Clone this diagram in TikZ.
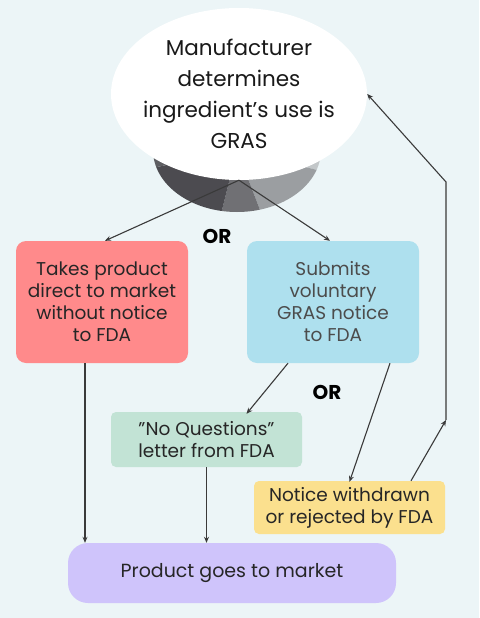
\documentclass[tikz,border=0pt]{standalone}
\usepackage{fontspec}
\setmainfont{Poppins}
\usetikzlibrary{arrows.meta,positioning,calc,shapes.geometric}
\definecolor{bgcol}{HTML}{ECF5F7}
\definecolor{redbox}{HTML}{FF8A8B}
\definecolor{bluebox}{HTML}{AEE0EE}
\definecolor{greenbox}{HTML}{C2E3D5}
\definecolor{yellowbox}{HTML}{FBE08E}
\definecolor{purplebox}{HTML}{CFC4FB}
\definecolor{linecol}{HTML}{3A3A3A}
\definecolor{greyA}{HTML}{C3C7C9}
\definecolor{greyB}{HTML}{9B9EA1}
\definecolor{greyC}{HTML}{707074}
\definecolor{greyD}{HTML}{4C4B50}
\definecolor{greyE}{HTML}{5E5E62}
\begin{document}
\begin{tikzpicture}[x=1pt,y=-1pt,
    box/.style={rectangle, rounded corners=10pt, align=center, inner sep=0pt,
        text=black!85, font=\fontsize{18.5}{22}\selectfont},
    arr/.style={draw=linecol, line width=1.1pt, -{Stealth[length=6pt,width=5pt]}},
    ortext/.style={font=\fontsize{20}{22}\selectfont\bfseries}]
    \fill[bgcol] (0,0) rectangle (479,618);
    \useasboundingbox (0,0) rectangle (479,618);
    % grey base under the ellipse
    \begin{scope}
        \clip (237,150) ellipse (84 and 62);
        \fill[greyA] (237,150) -- +(0:90) arc (0:14:90) -- cycle;
        \fill[greyB] (237,150) -- +(14:90) arc (14:69:90) -- cycle;
        \fill[greyC] (237,150) -- +(69:90) arc (69:104:90) -- cycle;
        \fill[greyD] (237,150) -- +(104:90) arc (104:168:90) -- cycle;
        \fill[greyE] (237,150) -- +(168:90) arc (168:180:90) -- cycle;
    \end{scope}
    \node[ellipse, fill=white, minimum width=256pt, minimum height=172pt, inner sep=0pt] (gras) at (239,94) {};
    \node[align=center, font=\fontsize{21.5}{31}\selectfont, text=black!90] (grastext) at (gras.center)
        {Manufacturer\\determines\\ingredient's use is\\GRAS};
    % the boxes
    \node[box, fill=redbox, minimum width=172pt, minimum height=122pt] (direct) at (102,302)
        {Takes product\\direct to market\\without notice\\to FDA};
    \node[box, fill=bluebox, minimum width=172pt, minimum height=122pt, text=black!70] (notice) at (333,302)
        {Submits\\voluntary\\GRAS notice\\to FDA};
    \node[box, rounded corners=5pt, fill=greenbox, minimum width=191pt, minimum height=55pt] (noq) at (206.5,439.5)
        {"No Questions"\\letter from FDA};
    \node[box, rounded corners=5pt, fill=yellowbox, minimum width=191pt, minimum height=53pt] (withdrawn) at (349.5,507.5)
        {Notice withdrawn\\or rejected by FDA};
    \node[box, rounded corners=20pt, fill=purplebox, minimum width=328pt, minimum height=60pt,
        font=\fontsize{19}{22}\selectfont] (market) at (232,573)
        {Product goes to market};
    \node[ortext] (or1) at (217,236) {OR};
    \node[ortext] (or2) at (327,392) {OR};
    % connectors
    \draw[arr] (gras.south) -- ([xshift=3pt]direct.north);
    \draw[arr] (gras.south) -- ([xshift=-3pt]notice.north);
    \draw[arr] ([xshift=-17pt]direct.south) -- ([xshift=-17pt]direct.south |- market.north);
    \draw[arr] ([xshift=-45pt]notice.south) -- ([xshift=40pt,yshift=-2pt]noq.north);
    \draw[arr] ([xshift=57pt]notice.south) -- ([yshift=-1pt]withdrawn.north);
    \draw[arr] (noq.south) -- (noq.south |- market.north);
    \coordinate (bend) at (446,420);
    \coordinate (top) at (446,182);
    \draw[arr] ([xshift=61.5pt]withdrawn.north) -- (bend);
    \draw[arr] (bend) -- (top) -- (gras.east);
\end{tikzpicture}
\end{document}
